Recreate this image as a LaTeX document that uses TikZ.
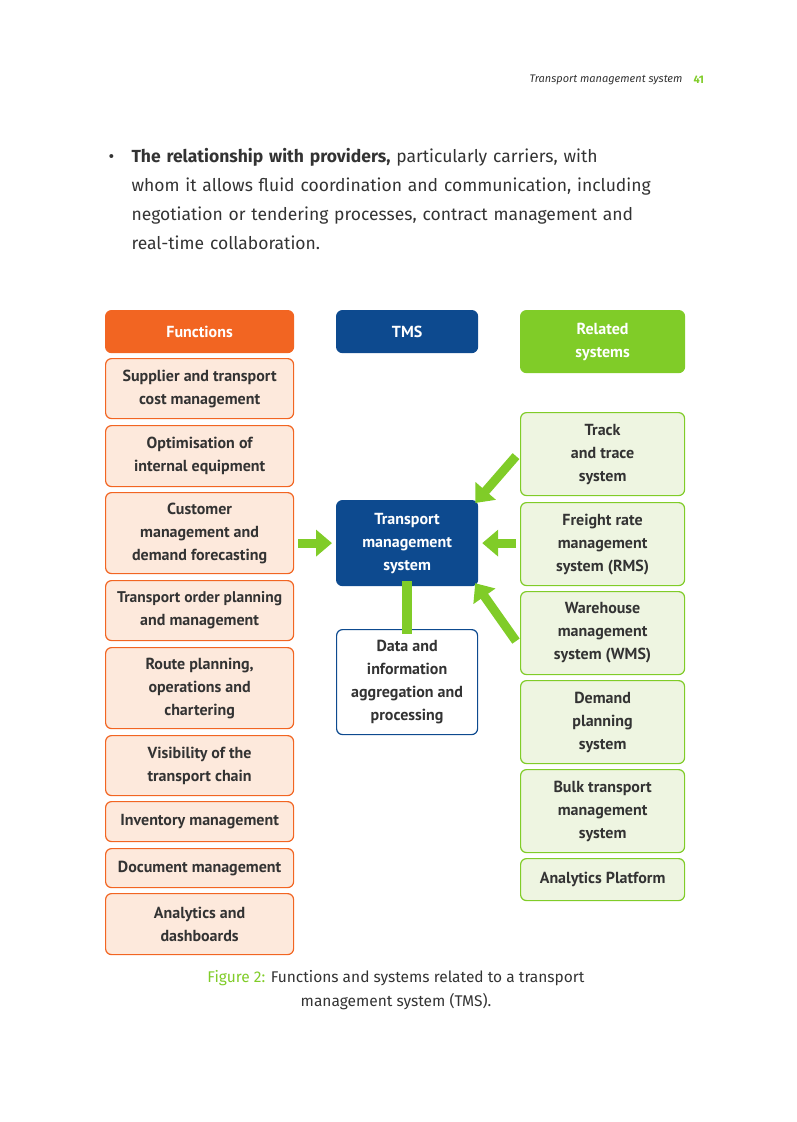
\documentclass[tikz,border=0pt]{standalone}
\usepackage{fontspec}
\setmainfont{Fira Sans}
\newfontfamily\boxfont{PT Sans}
\usetikzlibrary{arrows.meta}
\definecolor{org}{HTML}{F26522}
\definecolor{orgl}{HTML}{FDE9DC}
\definecolor{blu}{HTML}{0D4A8F}
\definecolor{grn}{HTML}{80CC28}
\definecolor{grnl}{HTML}{EEF5E1}
\definecolor{txt}{HTML}{333333}
\begin{document}
\begin{tikzpicture}[x=1pt,y=-1pt,
  bx/.style={rounded corners=6pt,line width=1.2pt,align=center,font=\boxfont\bfseries\fontsize{16}{23}\selectfont,text=txt,inner sep=0pt},
  fbox/.style={bx,draw=org,fill=orgl},
  gbox/.style={bx,draw=grn,fill=grnl},
  hdr/.style={bx,text=white},
  garr/.style={grn,line width=9pt,-{Triangle[length=16pt,width=26pt]}}]
\useasboundingbox (0,0) rectangle (796,1122);
\newcommand\bxat[5]{\node[#1,minimum width=#3pt,minimum height=#5pt,anchor=north west] (#2) at (#4) }
\node[anchor=east,font=\itshape\fontsize{11}{13}\selectfont,text=txt] (hd) at (686,80) {Transport management system};
\node[anchor=west,font=\bfseries\fontsize{11}{13}\selectfont,text=grn] (pg) at (690,80) {41};
\node[anchor=north west,text width=580pt,align=left,font=\fontsize{17.5}{29}\selectfont,text=txt] (body) at (105,145)
 {\makebox[23pt][l]{\textbullet}\textbf{The relationship with providers,} particularly carriers, with\\
 \hspace*{23pt}whom it allows fluid coordination and communication, including\\
 \hspace*{23pt}negotiation or tendering processes, contract management and\\
 \hspace*{23pt}real-time collaboration.};
% left
\bxat{hdr,fill=org,draw=org}{fh}{188}{105,310}{42}{Functions};
\bxat{fbox}{f1}{188}{105,358}{60}{Supplier and transport\\cost management};
\bxat{fbox}{f2}{188}{105,425}{61}{Optimisation of\\internal equipment};
\bxat{fbox}{f3}{188}{105,492}{81}{Customer\\management and\\demand forecasting};
\bxat{fbox}{f4}{188}{105,580}{60}{\fontsize{15.5}{23}\selectfont Transport order planning\\and management};
\bxat{fbox}{f5}{188}{105,647}{81}{Route planning,\\operations and\\chartering};
\bxat{fbox}{f6}{188}{105,735}{60}{Visibility of the\\transport chain};
\bxat{fbox}{f7}{188}{105,801}{40}{Inventory management};
\bxat{fbox}{f8}{188}{105,848}{39}{Document management};
\bxat{fbox}{f9}{188}{105,893}{61}{Analytics and\\dashboards};
% middle
\bxat{hdr,fill=blu,draw=blu}{th}{141}{336,310}{42}{TMS};
\bxat{hdr,fill=blu,draw=blu}{tms}{141}{336,500}{85}{Transport\\management\\system};
\bxat{bx,draw=blu,fill=white}{dat}{141}{336,629}{105}{Data and\\information\\aggregation and\\processing};
% right
\bxat{hdr,fill=grn,draw=grn}{rh}{164}{520,310}{62}{Related\\systems};
\bxat{gbox}{r1}{164}{520,412}{83}{Track\\and trace\\system};
\bxat{gbox}{r2}{164}{520,502}{83}{Freight rate\\management\\system (RMS)};
\bxat{gbox}{r3}{164}{520,591}{83}{Warehouse\\management\\system (WMS)};
\bxat{gbox}{r4}{164}{520,680}{83}{Demand\\planning\\system};
\bxat{gbox}{r5}{164}{520,769}{83}{Bulk transport\\management\\system};
\bxat{gbox}{r6}{164}{520,858}{42}{Analytics Platform};
% arrows
\draw[garr] (f3.east|-tms.west) ++(4,0) coordinate (a1) -- ([xshift=-4pt]tms.west);
\draw[garr] ([xshift=-4pt]r2.west|-tms.east) -- ([xshift=4pt]tms.east);
\draw[garr] ([xshift=-4pt,yshift=-2pt]r1.west) -- ([xshift=-3pt,yshift=-3pt]tms.north east);
\draw[garr] ([xshift=-4pt,yshift=-8pt]r3.west) -- ([xshift=-3pt,yshift=3pt]tms.south east);
\draw[grn,line width=10pt] ([yshift=5pt]tms.south) -- ([yshift=-5pt]dat.north);
% caption
\node[align=center,font=\fontsize{15.5}{24}\selectfont,text=txt] (cap) at (396,990)
 {\textcolor{grn}{Figure 2:} Functions and systems related to a transport\\management system (TMS).};
\end{tikzpicture}
\end{document}
